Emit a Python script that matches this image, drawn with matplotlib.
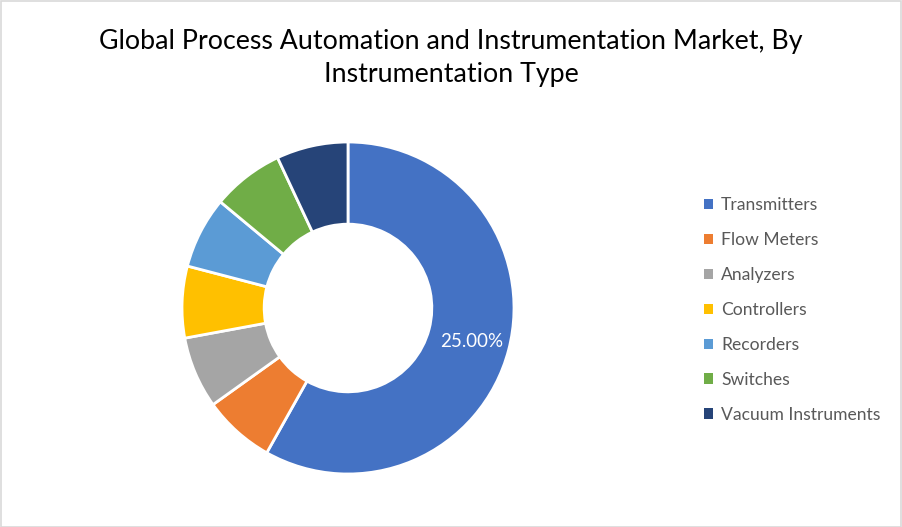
import matplotlib
matplotlib.use("Agg")
import matplotlib.pyplot as plt
from matplotlib.patches import Rectangle, Patch

categories = ["Transmitters", "Flow Meters", "Analyzers", "Controllers",
              "Recorders", "Switches", "Vacuum Instruments"]
values = [25, 3, 3, 3, 3, 3, 3]
colors = ["#4472C4", "#ED7D31", "#A5A5A5", "#FFC000", "#5B9BD5", "#70AD47", "#264478"]
title = "Global Process Automation and Instrumentation Market, By\nInstrumentation Type"

plt.rcParams['font.family'] = ['Lato', 'DejaVu Sans']

W, H = 902, 527
fig = plt.figure(figsize=(W / 100, H / 100), dpi=100)
fig.patch.set_facecolor("white")

# figure border
fig.patches.append(Rectangle((0.5 / W, 0.5 / H), 1 - 1.5 / W, 1 - 1.5 / H,
                             transform=fig.transFigure, fill=False,
                             edgecolor="#D9D9D9", linewidth=1.2))

cx, cy, r = 348, 527 - 308, 166
ax = fig.add_axes([(cx - r) / W, (cy - r) / H, 2 * r / W, 2 * r / H])
wedges, _ = ax.pie(values, colors=colors, startangle=90, counterclock=False,
                   radius=1.0,
                   wedgeprops=dict(width=0.495, edgecolor="white", linewidth=2))
ax.set_xlim(-1, 1)
ax.set_ylim(-1, 1)
ax.set_aspect("equal")
ax.axis("off")

ax.text(0.745, -0.2, f"{values[0]:.2f}%", color="white", fontsize=13.5,
        ha="center", va="center")

fig.text(0.5, 1 - 58 / H, title, ha="center", va="center", fontsize=19.3,
         color="black", linespacing=1.4)

handles = [Patch(facecolor=c, edgecolor="none") for c in colors]
leg = fig.legend(handles, categories, loc="center left",
                 bbox_to_anchor=(704 / W, 1 - 310 / H), frameon=False,
                 fontsize=12.6, handlelength=0.52, handleheight=0.52,
                 handletextpad=0.45, labelspacing=1.08, borderpad=0,
                 borderaxespad=0)
for t in leg.get_texts():
    t.set_color("#595959")

fig.savefig("out.png", dpi=100)
